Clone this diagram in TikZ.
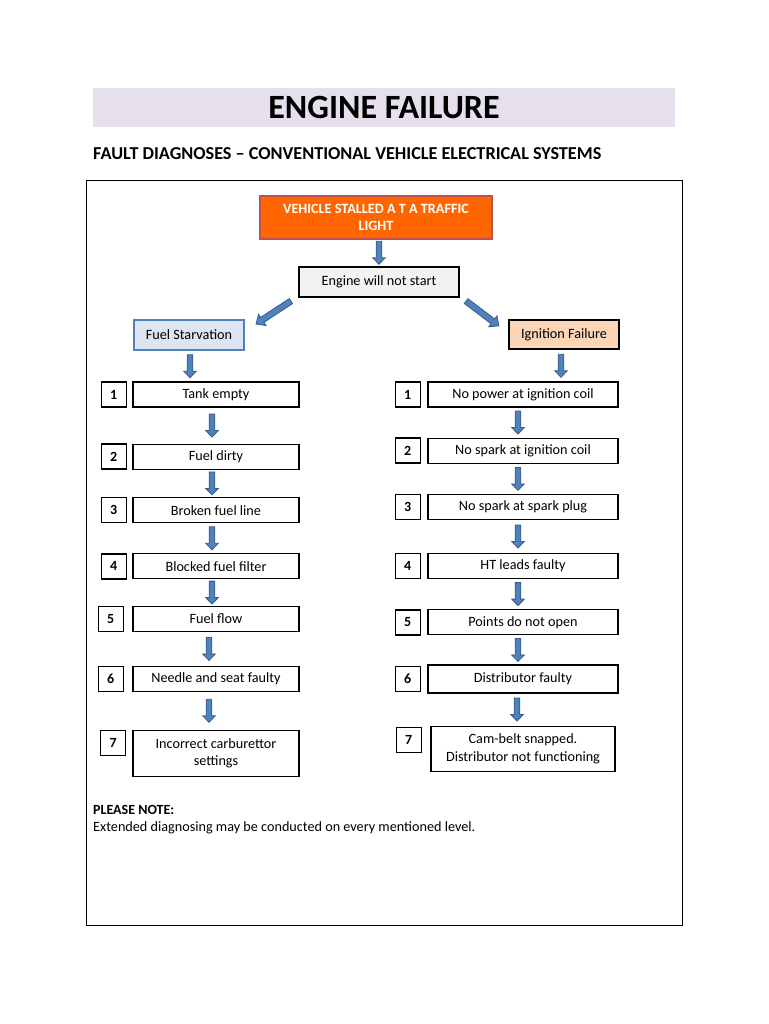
\documentclass[tikz,border=0pt]{standalone}
\usepackage{fontspec}
\setmainfont{Carlito}
\usetikzlibrary{positioning,calc}

\definecolor{titleback}{RGB}{229,224,236}
\definecolor{stallfill}{RGB}{255,102,0}
\definecolor{stallline}{RGB}{192,80,77}
\definecolor{fuelfill}{RGB}{220,230,242}
\definecolor{fuelline}{RGB}{79,129,189}
\definecolor{ignfill}{RGB}{251,213,181}
\definecolor{enginefill}{RGB}{242,242,242}
\definecolor{arrowfill}{RGB}{79,129,189}
\definecolor{arrowline}{RGB}{56,93,138}

\tikzstyle{stepbox} = [rectangle, draw=black, line width=1.1pt, minimum width=166pt, minimum height=25pt, text centered, inner sep=2pt, font=\fontsize{14.2}{17.5}\selectfont]
\tikzstyle{numbox} = [rectangle, draw=black, line width=1.4pt, minimum width=25pt, minimum height=25pt, inner sep=0pt, font=\bfseries\fontsize{14}{16}\selectfont]
\tikzstyle{stallbox} = [rectangle, draw=stallline, fill=stallfill, line width=1.3pt, minimum width=232pt, minimum height=43pt, text=white, font=\bfseries\fontsize{14.2}{17}\selectfont]
\tikzstyle{enginebox} = [rectangle, draw=black, fill=enginefill, line width=2.2pt, minimum width=160pt, minimum height=30pt, font=\fontsize{14.2}{16}\selectfont]
\tikzstyle{fuelbox} = [rectangle, draw=fuelline, fill=fuelfill, line width=2pt, minimum width=110pt, minimum height=30pt, font=\fontsize{14.2}{16}\selectfont]
\tikzstyle{ignbox} = [rectangle, draw=black, fill=ignfill, line width=2.2pt, minimum width=110pt, minimum height=29pt, font=\fontsize{14.2}{16}\selectfont]
\tikzstyle{notetext} = [anchor=base west, inner sep=0pt, font=\fontsize{14.2}{16}\selectfont]
\tikzstyle{fat} = [fill=arrowfill, draw=arrowline, line width=0.8pt, line join=miter]

% block arrow straight down, under the first node, between the two
\newcommand{\flowdown}[3][0pt]{\draw[fat] let \p1=([xshift=#1]#2.south), \p2=(#3.north), \n1={(\y1+\y2)/2} in
  (\x1-2.8pt,\n1+11.5pt) -- (\x1-2.8pt,\n1-5pt) -- (\x1-6.3pt,\n1-5pt) -- (\x1,\n1-11.5pt)
  -- (\x1+6.3pt,\n1-5pt) -- (\x1+2.8pt,\n1-5pt) -- (\x1+2.8pt,\n1+11.5pt) -- cycle;}
% block arrow from one point to another
\newcommand{\flowarrow}[2]{\draw[fat] let \p1=#1, \p2=#2, \n1={veclen(\x2-\x1,\y2-\y1)}, \n2={atan2(\y2-\y1,\x2-\x1)} in
  ([shift={(\p1)},rotate=\n2]0pt,3pt) -- ([shift={(\p1)},rotate=\n2]\n1-7.5pt,3pt)
  -- ([shift={(\p1)},rotate=\n2]\n1-7.5pt,6.8pt) -- ([shift={(\p1)},rotate=\n2]\n1,0pt)
  -- ([shift={(\p1)},rotate=\n2]\n1-7.5pt,-6.8pt) -- ([shift={(\p1)},rotate=\n2]\n1-7.5pt,-3pt)
  -- ([shift={(\p1)},rotate=\n2]0pt,-3pt) -- cycle;}

\begin{document}
\begin{tikzpicture}[x=1pt, y=-1pt, every text node part/.style={align=center}]
		
		\useasboundingbox (0,0) rectangle (768,1024);
		\fill[white] (0,0) rectangle (768,1024);
		
		% heading
		\node (title) [fill=titleback, minimum width=582pt, minimum height=39pt, font=\bfseries\fontsize{34}{38}\selectfont] at (384,107.5) {ENGINE FAILURE};
		\node (subtitle) [anchor=base west, inner sep=0pt, font=\bfseries\fontsize{18.2}{21}\selectfont] at (93,160) {FAULT DIAGNOSES – CONVENTIONAL VEHICLE ELECTRICAL SYSTEMS};
		
		\draw [line width=0.8pt] (86,180) rectangle (682,925);
		
		\node (stall) [stallbox] at (376,217.5) {VEHICLE STALLED A T A TRAFFIC\\LIGHT};
		\node (engine) [enginebox] at (379,282) {Engine will not start};
		\node (fuel) [fuelbox] at (189,335) {Fuel Starvation};
		\node (ign) [ignbox] at (564,334.5) {Ignition Failure};
		
		% fuel side
		\node (fuel1) [stepbox] at (216,394.5) {Tank empty};
		\node (fuel2) [stepbox, below = 36pt of fuel1] {Fuel dirty};
		\node (fuel3) [stepbox, below = 27.5pt of fuel2] {Broken fuel line};
		\node (fuel4) [stepbox, below = 30pt of fuel3] {Blocked fuel filter};
		\node (fuel5) [stepbox, below = 26.5pt of fuel4] {Fuel flow};
		\node (fuel6) [stepbox, below = 34pt of fuel5] {Needle and seat faulty};
		\node (fuel7) [stepbox, below = 37.5pt of fuel6, minimum height=46pt] {Incorrect carburettor\\settings};
		
		\node (fnum1) [numbox, left = 5.5pt of fuel1] {1};
		\node (fnum2) [numbox, left = 5.5pt of fuel2] {2};
		\node (fnum3) [numbox, left = 5.5pt of fuel3] {3};
		\node (fnum4) [numbox, left = 5.5pt of fuel4] {4};
		\node (fnum5) [numbox, left = 8.5pt of fuel5] {5};
		\node (fnum6) [numbox, left = 8.5pt of fuel6] {6};
		\node (fnum7) [numbox, below left = 0pt and 6pt of fuel7.north west] {7};
		
		% ignition side
		\node (ign1) [stepbox, minimum width=190pt] at (523,394.5) {No power at ignition coil};
		\node (ign2) [stepbox, minimum width=190pt, below = 30pt of ign1] {No spark at ignition coil};
		\node (ign3) [stepbox, minimum width=190pt, below = 30.5pt of ign2] {No spark at spark plug};
		\node (ign4) [stepbox, minimum width=190pt, below = 32.5pt of ign3] {HT leads faulty};
		\node (ign5) [stepbox, minimum width=190pt, below = 30.5pt of ign4] {Points do not open};
		\node (ign6) [stepbox, minimum width=190pt, minimum height=28pt, below = 29pt of ign5] {Distributor faulty};
		\node (ign7) [stepbox, minimum width=184pt, minimum height=45pt, below = 32pt of ign6] {Cam-belt snapped.\\Distributor not functioning};
		
		\node (inum1) [numbox, left = 6.5pt of ign1] {1};
		\node (inum2) [numbox, left = 6.5pt of ign2] {2};
		\node (inum3) [numbox, left = 6.5pt of ign3] {3};
		\node (inum4) [numbox, left = 6.5pt of ign4] {4};
		\node (inum5) [numbox, left = 6.5pt of ign5] {5};
		\node (inum6) [numbox, left = 6.5pt of ign6] {6};
		\node (inum7) [numbox, below left = 1pt and 8.5pt of ign7.north west] {7};
		
		% note
		\node (notehead) [notetext, font=\bfseries\fontsize{14}{16}\selectfont] at (93,814) {PLEASE NOTE:};
		\node (notebody) [notetext] at (93,831) {Extended diagnosing may be conducted on every mentioned level.};
		
		% arrows
		\flowdown[3pt]{stall}{engine}
		\flowarrow{([xshift=-7pt,yshift=-3pt]engine.south west)}{([xshift=11pt,yshift=-5pt]fuel.north east)}
		\flowarrow{([xshift=6pt,yshift=-3pt]engine.south east)}{([xshift=-9pt,yshift=-7pt]ign.north west)}
		
		\flowdown[1pt]{fuel}{fuel1}
		\flowdown[-4pt]{fuel1}{fuel2}
		\flowdown[-4pt]{fuel2}{fuel3}
		\flowdown[-4pt]{fuel3}{fuel4}
		\flowdown[-4pt]{fuel4}{fuel5}
		\flowdown[-7pt]{fuel5}{fuel6}
		\flowdown[-7pt]{fuel6}{fuel7}
		
		\flowdown[-3pt]{ign}{ign1}
		\flowdown[-5pt]{ign1}{ign2}
		\flowdown[-5pt]{ign2}{ign3}
		\flowdown[-5pt]{ign3}{ign4}
		\flowdown[-5pt]{ign4}{ign5}
		\flowdown[-5pt]{ign5}{ign6}
		\flowdown[-6pt]{ign6}{ign7}
		
\end{tikzpicture}
\end{document}
